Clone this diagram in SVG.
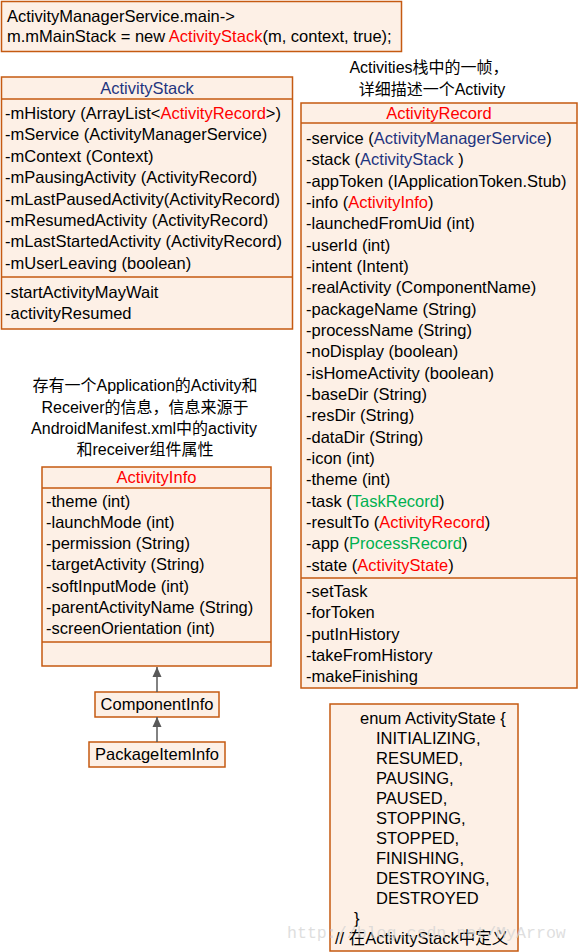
<svg xmlns="http://www.w3.org/2000/svg" width="578" height="952" viewBox="0 0 578 952">
<style>
.box{fill:#fdf0e6;stroke:#c55a11;stroke-width:1.5}
.div{stroke:#c55a11;stroke-width:1.5}
text{font-family:"Liberation Sans",Arial,"Noto Sans CJK SC",sans-serif;font-size:16.5px;fill:#000}
.cap{font-size:16px}
.mid{text-anchor:middle}
.red{fill:#ff0000}
.blue{fill:#1f3580}
.green{fill:#00b050}
.conn{stroke:#595959;stroke-width:1.5;fill:none}
.wm{font-family:"Liberation Mono","Courier New",monospace;font-size:16.6px;fill:#d4d4d4;fill-opacity:0.75}
</style>
<defs>
<marker id="tri" markerUnits="userSpaceOnUse" markerWidth="10" markerHeight="10" refX="10" refY="5" orient="auto">
<path d="M0,0.5 L10,5 L0,9.5 z" fill="#595959"/>
</marker>
</defs>
<rect width="578" height="952" fill="#ffffff"/>

<g id="main-note">
<rect class="box" x="1.5" y="1.5" width="400" height="50"/>
<text x="7" y="22">ActivityManagerService.main-&gt;</text>
<text x="7" y="42">m.mMainStack = new <tspan class="red">ActivityStack</tspan>(m, context, true);</text>
</g>

<g id="ActivityStack">
<rect class="box" x="1.5" y="77" width="291" height="252"/>
<line class="div" x1="1.5" y1="99" x2="292.5" y2="99"/>
<line class="div" x1="1.5" y1="277" x2="292.5" y2="277"/>
<text class="mid blue" x="147" y="94">ActivityStack</text>
<text x="5" y="119">-mHistory (ArrayList&lt;<tspan class="red">ActivityRecord</tspan>&gt;)</text>
<text x="5" y="140.4">-mService (ActivityManagerService)</text>
<text x="5" y="161.8">-mContext (Context)</text>
<text x="5" y="183.2">-mPausingActivity  (ActivityRecord)</text>
<text x="5" y="204.6">-mLastPausedActivity(ActivityRecord)</text>
<text x="5" y="226">-mResumedActivity  (ActivityRecord)</text>
<text x="5" y="247.4">-mLastStartedActivity  (ActivityRecord)</text>
<text x="5" y="268.8">-mUserLeaving (boolean)</text>
<text x="5" y="298">-startActivityMayWait</text>
<text x="5" y="319.4">-activityResumed</text>
</g>

<g id="caption-record">
<text class="mid cap" x="429" y="73">Activities栈中的一帧，</text>
<text class="mid cap" x="432" y="95">详细描述一个Activity</text>
</g>

<g id="ActivityRecord">
<rect class="box" x="301" y="103" width="276" height="585"/>
<line class="div" x1="301" y1="123" x2="577" y2="123"/>
<line class="div" x1="301" y1="578" x2="577" y2="578"/>
<text class="mid red" x="439" y="119">ActivityRecord</text>
<text x="306" y="144">-service (<tspan class="blue">ActivityManagerService</tspan>)</text>
<text x="306" y="165.3">-stack (<tspan class="blue">ActivityStack </tspan>)</text>
<text x="306" y="186.7">-appToken (IApplicationToken.Stub)</text>
<text x="306" y="208">-info (<tspan class="red">ActivityInfo</tspan>)</text>
<text x="306" y="229.3">-launchedFromUid (int)</text>
<text x="306" y="250.7">-userId (int)</text>
<text x="306" y="272">-intent (Intent)</text>
<text x="306" y="293.3">-realActivity  (ComponentName)</text>
<text x="306" y="314.7">-packageName (String)</text>
<text x="306" y="336">-processName (String)</text>
<text x="306" y="357.3">-noDisplay (boolean)</text>
<text x="306" y="378.7">-isHomeActivity (boolean)</text>
<text x="306" y="400">-baseDir (String)</text>
<text x="306" y="421.3">-resDir (String)</text>
<text x="306" y="442.7">-dataDir (String)</text>
<text x="306" y="464">-icon (int)</text>
<text x="306" y="485.3">-theme (int)</text>
<text x="306" y="506.7">-task (<tspan class="green">TaskRecord</tspan>)</text>
<text x="306" y="528">-resultTo (<tspan class="red">ActivityRecord</tspan>)</text>
<text x="306" y="549.3">-app (<tspan class="green">ProcessRecord</tspan>)</text>
<text x="306" y="570.7">-state (<tspan class="red">ActivityState</tspan>)</text>
<text x="306" y="597">-setTask</text>
<text x="306" y="618.3">-forToken</text>
<text x="306" y="639.7">-putInHistory</text>
<text x="306" y="661">-takeFromHistory</text>
<text x="306" y="682.3">-makeFinishing</text>
</g>

<g id="caption-info">
<text class="mid cap" x="145" y="391">存有一个Application的Activity和</text>
<text class="mid cap" x="145" y="413">Receiver的信息，信息来源于</text>
<text class="mid cap" x="144" y="434">AndroidManifest.xml中的activity</text>
<text class="mid cap" x="145" y="455">和receiver组件属性</text>
</g>

<g id="ActivityInfo">
<rect class="box" x="42" y="467" width="229" height="199"/>
<line class="div" x1="42" y1="488" x2="271" y2="488"/>
<line class="div" x1="42" y1="642" x2="271" y2="642"/>
<text class="mid red" x="156.5" y="483">ActivityInfo</text>
<text x="46" y="507">-theme (int)</text>
<text x="46" y="528">-launchMode (int)</text>
<text x="46" y="549">-permission (String)</text>
<text x="46" y="570">-targetActivity  (String)</text>
<text x="46" y="592">-softInputMode (int)</text>
<text x="46" y="613">-parentActivityName (String)</text>
<text x="46" y="634">-screenOrientation (int)</text>
</g>

<g id="ComponentInfo">
<rect class="box" x="95" y="692" width="124" height="25"/>
<text class="mid" x="157" y="710">ComponentInfo</text>
</g>

<g id="PackageItemInfo">
<rect class="box" x="89" y="742" width="136" height="25"/>
<text class="mid" x="157" y="760">PackageItemInfo</text>
</g>

<g id="connectors">
<line class="conn" x1="157" y1="692" x2="157" y2="667" marker-end="url(#tri)"/>
<line class="conn" x1="157" y1="742" x2="157" y2="717" marker-end="url(#tri)"/>
</g>

<g id="ActivityState">
<rect class="box" x="330" y="704" width="188" height="247"/>
<text x="360" y="724">enum ActivityState {</text>
<text x="376" y="744">INITIALIZING,</text>
<text x="376" y="764">RESUMED,</text>
<text x="376" y="784">PAUSING,</text>
<text x="376" y="804">PAUSED,</text>
<text x="376" y="824">STOPPING,</text>
<text x="376" y="844">STOPPED,</text>
<text x="376" y="864">FINISHING,</text>
<text x="376" y="884">DESTROYING,</text>
<text x="376" y="904">DESTROYED</text>
<text x="354" y="924">}</text>
<text x="335" y="944">// 在ActivityStack中定义</text>
</g>

<text class="wm" x="287" y="938">http://blog.csdn.net/MyArrow</text>
</svg>
